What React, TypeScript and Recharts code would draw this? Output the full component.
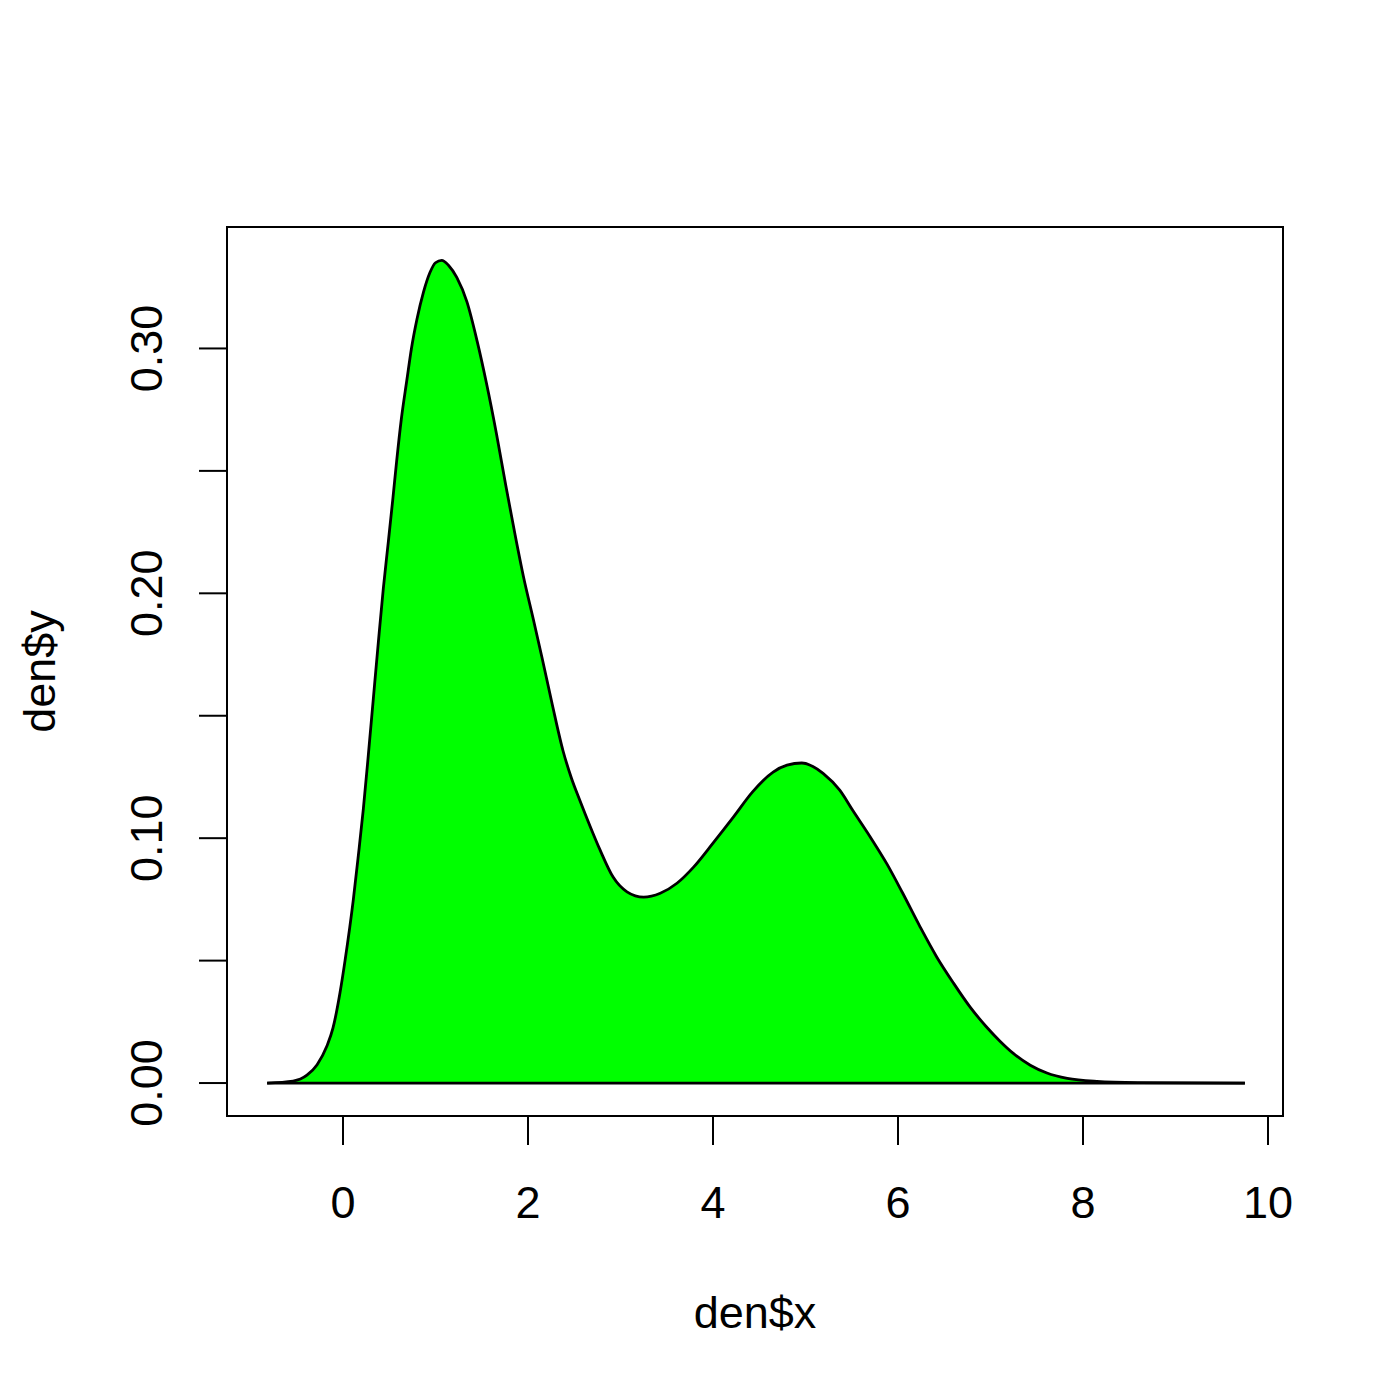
import React from 'react';
import { ComposedChart, Area, XAxis, YAxis, ReferenceArea, ReferenceLine } from 'recharts';

// density estimate (den$x, den$y)
const denX = [
  -0.82, -0.54, -0.39, -0.28, -0.175, -0.108, -0.032, 0.022, 0.112, 0.166, 0.22, 0.274, 0.328,
  0.382, 0.436, 0.49, 0.54, 0.58, 0.63, 0.69, 0.74, 0.8, 0.87, 0.94, 1.0, 1.067, 1.14, 1.23,
  1.34, 1.45, 1.55, 1.66, 1.76, 1.86, 1.95, 2.06, 2.15, 2.26, 2.38, 2.47, 2.56, 2.67, 2.78, 2.92,
  3.07, 3.25, 3.43, 3.61, 3.79, 4.0, 4.22, 4.43, 4.65, 4.8, 4.96, 5.08, 5.19, 5.37, 5.51,
  5.7, 5.88, 6.05, 6.24, 6.42, 6.6, 6.78, 6.95, 7.1, 7.25, 7.43, 7.61, 7.83, 8.15, 8.6, 9.2, 9.75,
];
const denY = [
  0, 0.0008, 0.0032, 0.0075, 0.015, 0.0225, 0.037, 0.05, 0.075, 0.093, 0.112, 0.134, 0.157,
  0.18, 0.202, 0.221, 0.239, 0.254, 0.271, 0.287, 0.3, 0.312, 0.323, 0.331, 0.335, 0.336, 0.334, 0.329,
  0.319, 0.303, 0.286, 0.265, 0.244, 0.224, 0.207, 0.189, 0.174, 0.155, 0.1355, 0.1245, 0.1155, 0.105, 0.0951, 0.0841,
  0.0781, 0.0759, 0.0775, 0.0816, 0.0882, 0.098, 0.1086, 0.119, 0.127, 0.1298, 0.1307, 0.1293, 0.1265, 0.1196, 0.1114,
  0.1005, 0.0895, 0.0776, 0.0637, 0.0514, 0.0408, 0.031, 0.0232, 0.0172, 0.012, 0.0073, 0.0041, 0.0019, 0.0007, 0.0002, 0.00003, 0,
];

const xTicks = [0, 2, 4, 6, 8, 10];
const yTicks = [0, 0.05, 0.1, 0.15, 0.2, 0.25, 0.3];
const yLabelled = [0, 0.1, 0.2, 0.3];

const xDomain = [-1.254, 10.162];
const yDomain = [-0.01346, 0.3496];

const data = denX.map((x, i) => ({ x, y: denY[i] }));

const font = '"Liberation Sans", Arial, sans-serif';
const fs = 45;

const XTick = (props: any) => {
  const { x, y, payload } = props;
  return (
    <text x={x} y={y + 71} textAnchor="middle" fontFamily={font} fontSize={fs} fill="#000">
      {payload.value}
    </text>
  );
};

const YTick = (props: any) => {
  const { x, y, payload } = props;
  if (!yLabelled.some((v) => Math.abs(v - payload.value) < 1e-9)) return null;
  const cx = x - 51;
  return (
    <text
      x={cx}
      y={y}
      dy="0.35em"
      textAnchor="middle"
      transform={`rotate(-90, ${cx}, ${y})`}
      fontFamily={font}
      fontSize={fs}
      fill="#000"
    >
      {payload.value.toFixed(2)}
    </text>
  );
};

export default function App() {
  return (
    <div style={{ position: 'absolute', left: 0, top: 0, width: 1400, height: 1400, background: '#fff' }}>
      <ComposedChart width={1400} height={1400} data={data} margin={{ top: 227, right: 117, bottom: 0, left: 0 }}>
        <XAxis
          dataKey="x"
          type="number"
          domain={xDomain}
          allowDataOverflow
          ticks={xTicks}
          height={284}
          axisLine={false}
          tickSize={29}
          tickMargin={2}
          tickLine={{ stroke: '#000', strokeWidth: 2 }}
          tick={<XTick />}
          label={{
            content: (p: any) => {
              const vb = p.viewBox;
              return (
                <text x={vb.x + vb.width / 2} y={vb.y + 212} textAnchor="middle" fontFamily={font} fontSize={fs} fill="#000">
                  den$x
                </text>
              );
            },
          }}
        />
        <YAxis
          type="number"
          domain={yDomain}
          allowDataOverflow
          ticks={yTicks}
          width={227}
          axisLine={false}
          tickSize={28}
          tickMargin={2}
          tickLine={{ stroke: '#000', strokeWidth: 2 }}
          tick={<YTick />}
          label={{
            content: (p: any) => {
              const vb = p.viewBox;
              const cy = vb.y + vb.height / 2;
              return (
                <text x={55} y={cy} textAnchor="middle" transform={`rotate(-90, 55, ${cy})`} fontFamily={font} fontSize={fs} fill="#000">
                  den$y
                </text>
              );
            },
          }}
        />
        <Area
          dataKey="y"
          type="monotone"
          baseValue={0}
          fill="#00ff00"
          fillOpacity={1}
          stroke="#000"
          strokeWidth={2.8}
          dot={false}
          activeDot={false}
          isAnimationActive={false}
        />
        <ReferenceLine
          segment={[
            { x: denX[0], y: 0 },
            { x: denX[denX.length - 1], y: 0 },
          ]}
          stroke="#000"
          strokeWidth={2.8}
        />
        <ReferenceArea
          x1={xDomain[0]}
          x2={xDomain[1]}
          y1={yDomain[0]}
          y2={yDomain[1]}
          fill="none"
          stroke="#000"
          strokeWidth={2}
          ifOverflow="visible"
        />
      </ComposedChart>
    </div>
  );
}
